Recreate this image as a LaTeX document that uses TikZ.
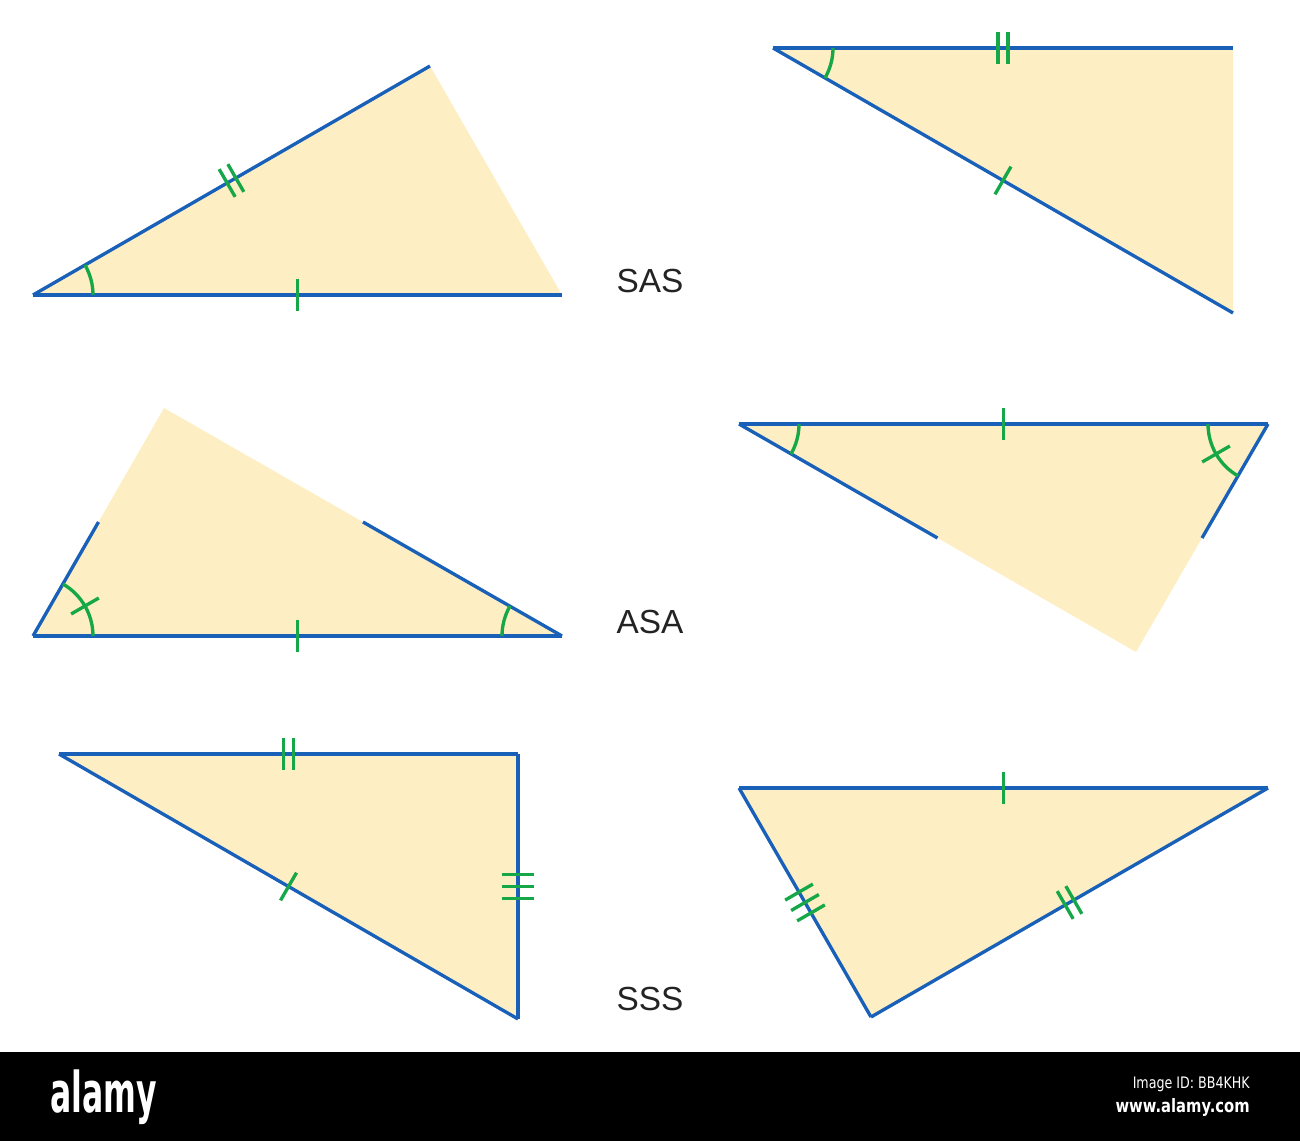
\documentclass[tikz,border=0pt]{standalone}
\usepackage{fontspec}
\setsansfont{Liberation Sans}
\newfontfamily\logofont[FakeStretch=0.56]{DejaVu Sans}
\newfontfamily\idfont[FakeStretch=0.8]{DejaVu Sans}
\usetikzlibrary{calc}
\usetikzlibrary{decorations.markings}

\definecolor{trifill}{RGB}{253,238,195}
\definecolor{edgeblue}{RGB}{24,96,184}
\definecolor{markgreen}{RGB}{22,168,72}
\definecolor{labelgray}{RGB}{35,35,35}

\tikzset{
  side/.style={draw=edgeblue,line width=1.9pt},
  greenmark/.style={draw=markgreen,line width=1.9pt},
  tick1/.style={postaction={decorate,decoration={markings,
    mark=at position 0.5 with {\draw[greenmark] (0,-16) -- (0,16);}}}},
  tick2/.style={postaction={decorate,decoration={markings,
    mark=at position 0.5 with {\draw[greenmark] (-5,-16) -- (-5,16) (5,-16) -- (5,16);}}}},
  tick3/.style={postaction={decorate,decoration={markings,
    mark=at position 0.5 with {\draw[greenmark] (-12,-16) -- (-12,16) (0,-16) -- (0,16) (12,-16) -- (12,16);}}}},
  lbl/.style={text=labelgray,inner sep=0pt,font=\sffamily\fontsize{19}{22}\selectfont}
}

\begin{document}
\begin{tikzpicture}[x=0.02cm,y=-0.02cm]
\useasboundingbox (0,0) rectangle (1300,1141);

% vertices
\coordinate (sasA) at (33,295);
\coordinate (sasB) at (430,66);
\coordinate (sasC) at (562,295);
\coordinate (sasD) at (773,48);
\coordinate (sasE) at (1233,48);
\coordinate (sasF) at (1233,313);
\coordinate (asaA) at (33,636);
\coordinate (asaB) at (164,408);
\coordinate (asaC) at (562,636);
\coordinate (asaD) at (739,424);
\coordinate (asaE) at (1268,424);
\coordinate (asaF) at (1136,652);
\coordinate (sssA) at (59,754);
\coordinate (sssB) at (518,754);
\coordinate (sssC) at (518,1019);
\coordinate (sssD) at (739,788);
\coordinate (sssE) at (1268,788);
\coordinate (sssF) at (871,1017);

% fills
\fill[trifill] (sasA) -- (sasB) -- (sasC) -- cycle;
\fill[trifill] (sasD) -- (sasE) -- (sasF) -- cycle;
\fill[trifill] (asaA) -- (asaB) -- (asaC) -- cycle;
\fill[trifill] (asaD) -- (asaE) -- (asaF) -- cycle;
\fill[trifill] (sssA) -- (sssB) -- (sssC) -- cycle;
\fill[trifill] (sssD) -- (sssE) -- (sssF) -- cycle;

% SAS
\draw[side,tick1] (sasA) -- (sasC);
\draw[side,tick2] (sasA) -- (sasB);
\draw[side,tick2] (sasD) -- (sasE);
\draw[side,tick1] (sasD) -- (sasF);
\draw[greenmark] (sasA) ++(0:60) arc[start angle=0,end angle=-30,radius=60];
\draw[greenmark] (sasD) ++(0:60) arc[start angle=0,end angle=30,radius=60];

% ASA
\draw[side,tick1] (asaA) -- (asaC);
\draw[side] (asaA) -- ($(asaA)!0.5!(asaB)$);
\draw[side] (asaC) -- ($(asaC)!0.5!(asaB)$);
\draw[side,tick1] (asaD) -- (asaE);
\draw[side] (asaD) -- ($(asaD)!0.5!(asaF)$);
\draw[side] (asaE) -- ($(asaE)!0.5!(asaF)$);
\draw[greenmark] (asaA) ++(0:60) arc[start angle=0,end angle=-60,radius=60];
\draw[greenmark] ($(asaA)+(-30:44)$) -- ($(asaA)+(-30:76)$);
\draw[greenmark] (asaC) ++(180:60) arc[start angle=180,end angle=210,radius=60];
\draw[greenmark] (asaD) ++(0:60) arc[start angle=0,end angle=30,radius=60];
\draw[greenmark] (asaE) ++(180:60) arc[start angle=180,end angle=120,radius=60];
\draw[greenmark] ($(asaE)+(150:44)$) -- ($(asaE)+(150:76)$);

% SSS
\draw[side,tick2] (sssA) -- (sssB);
\draw[side,tick3] (sssB) -- (sssC);
\draw[side,tick1] (sssC) -- (sssA);
\draw[side,tick1] (sssD) -- (sssE);
\draw[side,tick2] (sssE) -- (sssF);
\draw[side,tick3] (sssF) -- (sssD);

% labels
\node[lbl] (sas) at (650,281) {SAS};
\node[lbl] (asa) at (650,622) {ASA};
\node[lbl] (sss) at (650,999) {SSS};

% bottom band
\fill[black] (0,1052) rectangle (1300,1141);
\node[text=white,inner sep=0pt,anchor=base west,font=\logofont\bfseries\fontsize{32}{32}\selectfont] (logo) at (50,1112) {alamy};
\node[text=white,inner sep=0pt,anchor=base east,font=\idfont\fontsize{9}{10}\selectfont] (imgid) at (1250,1088) {Image ID: BB4KHK};
\node[text=white,inner sep=0pt,anchor=base east,font=\idfont\bfseries\fontsize{10.5}{12}\selectfont] (site) at (1250,1112) {www.alamy.com};
\end{tikzpicture}
\end{document}
